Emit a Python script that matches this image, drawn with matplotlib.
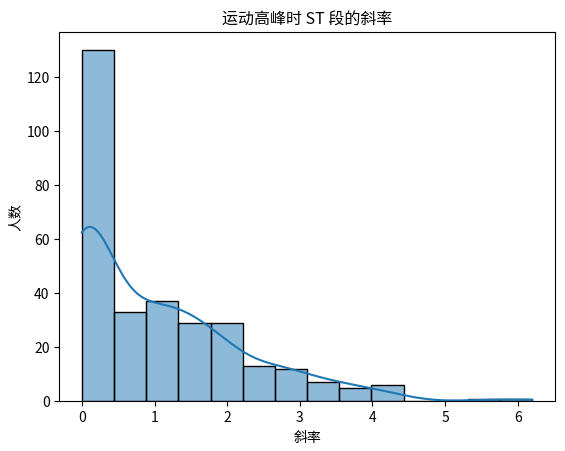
import numpy as np
import matplotlib
matplotlib.use('Agg')
import matplotlib.pyplot as plt
import seaborn as sns

plt.rcParams['font.family'] = ['Noto Sans CJK SC', 'DejaVu Sans']
plt.rcParams['axes.unicode_minus'] = False

# oldpeak values and how many people have each
values = [0.0, 0.1, 0.2, 0.3, 0.4, 0.5, 0.6, 0.7, 0.8, 0.9, 1.0, 1.1, 1.2, 1.3,
          1.4, 1.5, 1.6, 1.8, 1.9, 2.0, 2.1, 2.2, 2.3, 2.4, 2.5, 2.6, 2.8, 2.9,
          3.0, 3.1, 3.2, 3.4, 3.5, 3.6, 3.8, 4.0, 4.2, 4.4, 5.6, 6.2]
counts = [99, 7, 12, 3, 9, 5, 14, 1, 13, 3, 14, 2, 17, 1,
          13, 5, 11, 10, 5, 9, 1, 4, 2, 3, 2, 6, 6, 1,
          5, 1, 2, 3, 1, 4, 1, 3, 2, 1, 1, 1]

data = np.repeat(values, counts)

fig = plt.figure(figsize=(5.65, 4.51), dpi=100)
ax = fig.add_axes([0.105, 0.110, 0.877, 0.818])
sns.histplot(data, bins=14, kde=True, ax=ax)
ax.set_title('运动高峰时 ST 段的斜率', fontsize=11.5)
ax.set_xlabel('斜率')
ax.set_ylabel('人数')
ax.yaxis.set_label_coords(-0.075, 0.5)

fig.savefig('out.png', dpi=100)
